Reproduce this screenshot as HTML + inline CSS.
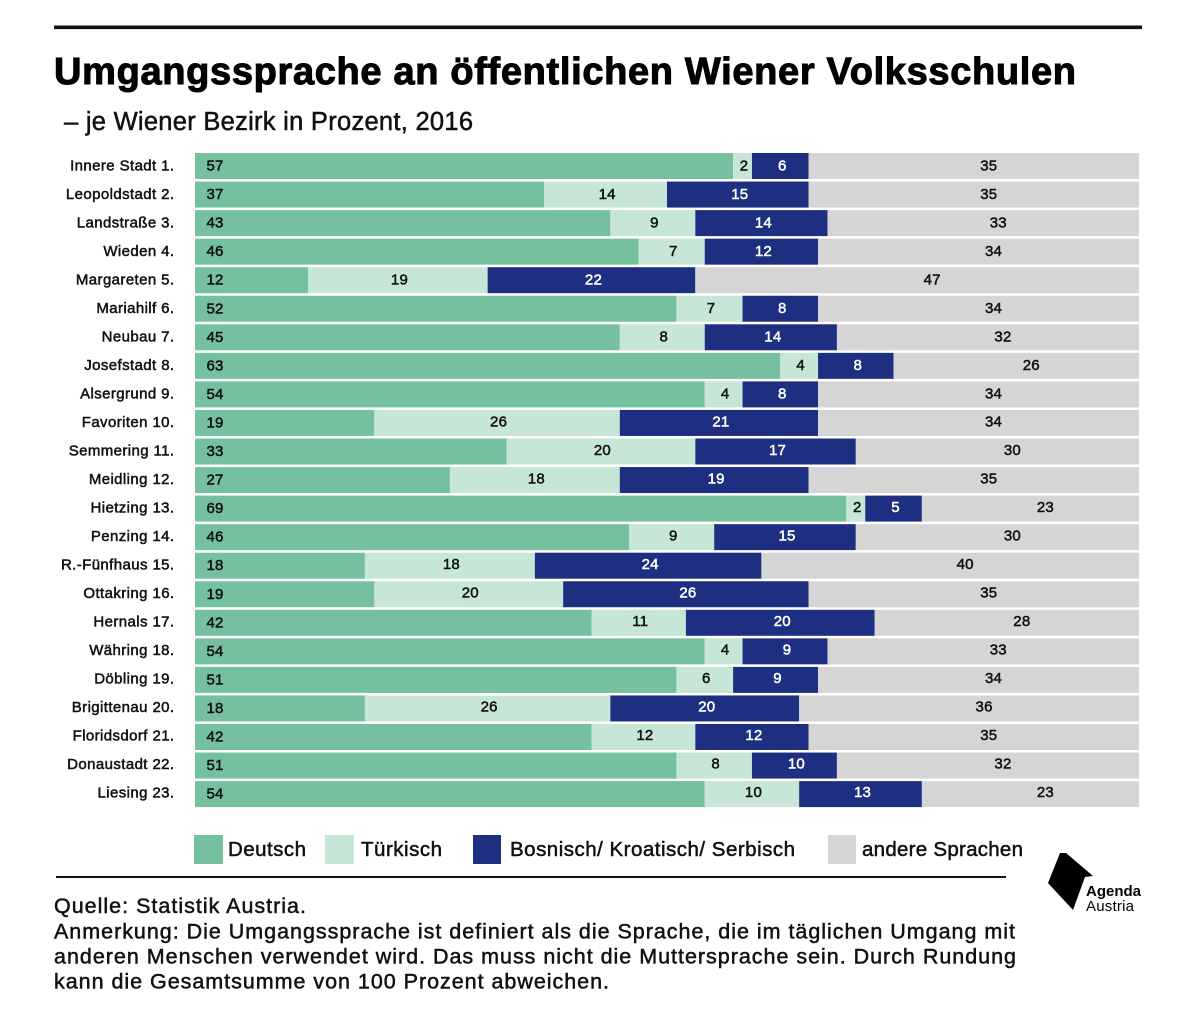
<!DOCTYPE html>
<html lang="de">
<head>
<meta charset="utf-8">
<title>Umgangssprache an öffentlichen Wiener Volksschulen</title>
<style>
html,body{margin:0;padding:0;background:#fff;}
svg{display:block;}
text{font-family:"Liberation Sans",sans-serif;fill:#111;}
.med{stroke:#111;stroke-width:.5px;}
.rowlabel{font-size:15px;letter-spacing:.4px;text-anchor:end;stroke:#111;stroke-width:.5px;}
.num{font-size:15px;letter-spacing:.2px;stroke-width:.5px;}
</style>
</head>
<body>
<svg id="chart" width="1200" height="1018" viewBox="0 0 1200 1018" xmlns="http://www.w3.org/2000/svg">
  <rect x="0" y="0" width="1200" height="1018" fill="#fff"/>
  <rect x="54" y="25.5" width="1088" height="3.6" fill="#111"/>
  <text x="54" y="84" font-size="38" font-weight="700" textLength="1022" lengthAdjust="spacing" style="stroke:#000;stroke-width:1px;fill:#000">Umgangssprache an öffentlichen Wiener Volksschulen</text>
  <text class="med" x="64" y="130" font-size="25.5" textLength="409" lengthAdjust="spacing">– je Wiener Bezirk in Prozent, 2016</text>
  <g id="rows"></g>

  <g>
    <rect x="194" y="835" width="29" height="29" fill="#75C09F"/>
    <text class="med" x="228" y="856" font-size="20.5" textLength="78" lengthAdjust="spacing">Deutsch</text>
    <rect x="325" y="835" width="29" height="29" fill="#C8E6D7"/>
    <text class="med" x="361" y="856" font-size="20.5" textLength="81" lengthAdjust="spacing">Türkisch</text>
    <rect x="473" y="835" width="28" height="29" fill="#1E2F82"/>
    <text class="med" x="510" y="856" font-size="20.5" textLength="285" lengthAdjust="spacing">Bosnisch/ Kroatisch/ Serbisch</text>
    <rect x="828" y="835" width="28" height="29" fill="#D5D5D5"/>
    <text class="med" x="862" y="856" font-size="20.5" textLength="161" lengthAdjust="spacing">andere Sprachen</text>
  </g>

  <rect x="56" y="876" width="950" height="2" fill="#111"/>

  <g>
    <text class="med" x="54" y="913" font-size="21.5" textLength="252" lengthAdjust="spacing">Quelle: Statistik Austria.</text>
    <text class="med" x="54" y="938.5" font-size="21.5" textLength="961" lengthAdjust="spacing">Anmerkung: Die Umgangssprache ist definiert als die Sprache, die im täglichen Umgang mit</text>
    <text class="med" x="54" y="963.5" font-size="21.5" textLength="962" lengthAdjust="spacing">anderen Menschen verwendet wird. Das muss nicht die Muttersprache sein. Durch Rundung</text>
    <text class="med" x="54" y="988.5" font-size="21.5" textLength="555" lengthAdjust="spacing">kann die Gesamtsumme von 100 Prozent abweichen.</text>
  </g>

  <g>
    <polygon points="1060,853 1066,853 1093,876 1085,877 1073,910 1048,883" fill="#000"/>
    <text x="1086" y="896" font-size="15" font-weight="700" textLength="55" lengthAdjust="spacing" style="fill:#000">Agenda</text>
    <text x="1086" y="911" font-size="15" textLength="48" lengthAdjust="spacing" style="fill:#000">Austria</text>
  </g>
</svg>
<script>
// Categories
const districts = ["Innere Stadt 1.","Leopoldstadt 2.","Landstraße 3.","Wieden 4.","Margareten 5.","Mariahilf 6.","Neubau 7.","Josefstadt 8.","Alsergrund 9.","Favoriten 10.","Semmering 11.","Meidling 12.","Hietzing 13.","Penzing 14.","R.-Fünfhaus 15.","Ottakring 16.","Hernals 17.","Währing 18.","Döbling 19.","Brigittenau 20.","Floridsdorf 21.","Donaustadt 22.","Liesing 23."];

// Segment values as drawn (percent)
const deutsch  = [57,37,44,47,12,51,45,62,54,19,33,27,69,46,18,19,42,54,51,18,42,51,54];
const tuerkisch= [ 2,13, 9, 7,19, 7, 9, 4, 4,26,20,18, 2, 9,18,20,10, 4, 6,26,11, 8,10];
const bks      = [ 6,15,14,12,22, 8,14, 8, 8,21,17,20, 6,15,24,26,20, 9, 9,20,12, 9,13];
const andere   = [35,35,33,34,47,34,32,26,34,34,30,35,23,30,40,35,28,33,34,36,35,32,23];

// Printed values
const deutschLabels  = [57,37,43,46,12,52,45,63,54,19,33,27,69,46,18,19,42,54,51,18,42,51,54];
const tuerkischLabels= [ 2,14, 9, 7,19, 7, 8, 4, 4,26,20,18, 2, 9,18,20,11, 4, 6,26,12, 8,10];
const bksLabels      = [ 6,15,14,12,22, 8,14, 8, 8,21,17,19, 5,15,24,26,20, 9, 9,20,12,10,13];
const andereLabels   = [35,35,33,34,47,34,32,26,34,34,30,35,23,30,40,35,28,33,34,36,35,32,23];

const SVGNS = "http://www.w3.org/2000/svg";
const rowsGroup = document.getElementById("rows");

function xScale(v){ return 195 + v * 9.44; }
function yScale(i){ return 153 + i * 28.55; }
const barHeight = 26;

function addRect(parent, x, y, w, h, fill){
  const r = document.createElementNS(SVGNS, "rect");
  r.setAttribute("x", x);
  r.setAttribute("y", y);
  r.setAttribute("width", w);
  r.setAttribute("height", h);
  r.setAttribute("fill", fill);
  parent.appendChild(r);
  return r;
}
function addNum(parent, x, y, str, fill, anchor){
  const t = document.createElementNS(SVGNS, "text");
  t.setAttribute("class", "num");
  t.setAttribute("x", x);
  t.setAttribute("y", y);
  t.setAttribute("text-anchor", anchor);
  t.style.fill = fill;
  t.style.stroke = fill;
  t.textContent = str;
  parent.appendChild(t);
  return t;
}

districts.forEach(function(name, i){
  const y = yScale(i);
  const labelY = 170.5 + i * 28.5;
  const greenY = 170.5 + i * 28.55;
  const textY = 170.5 + i * 28.47;

  const row = document.createElementNS(SVGNS, "g");
  
  
  rowsGroup.appendChild(row);

  const label = document.createElementNS(SVGNS, "text");
  label.setAttribute("class", "rowlabel");
  label.setAttribute("x", 174.5);
  label.setAttribute("y", labelY);
  label.textContent = name;
  
  
  row.appendChild(label);

  const x0 = xScale(0);
  const x1 = xScale(deutsch[i]);
  const x2 = xScale(deutsch[i] + tuerkisch[i]);
  const x3 = xScale(deutsch[i] + tuerkisch[i] + bks[i]);
  const x4 = xScale(deutsch[i] + tuerkisch[i] + bks[i] + andere[i]);

  const barD = addRect(row, x0, y, x1 - x0, barHeight, "#75C09F");
  
  
  const barT = addRect(row, x1, y, x2 - x1, barHeight, "#C8E6D7");
  
  
  const barB = addRect(row, x2, y, x3 - x2, barHeight, "#1E2F82");
  
  
  const barA = addRect(row, x3, y, x4 - x3, barHeight, "#D5D5D5");
  
  

  const numD = addNum(row, x0 + 11.5, greenY, deutschLabels[i], "#111", "start");
  
  
  const numT = addNum(row, (x1 + x2) / 2 + 1.5, textY, tuerkischLabels[i], "#111", "middle");
  
  
  const numB = addNum(row, (x2 + x3) / 2 + 2, textY, bksLabels[i], "#fff", "middle");
  
  
  const numA = addNum(row, (x3 + x4) / 2 + 15, textY, andereLabels[i], "#111", "middle");
  
  
});
</script>
</body>
</html>
